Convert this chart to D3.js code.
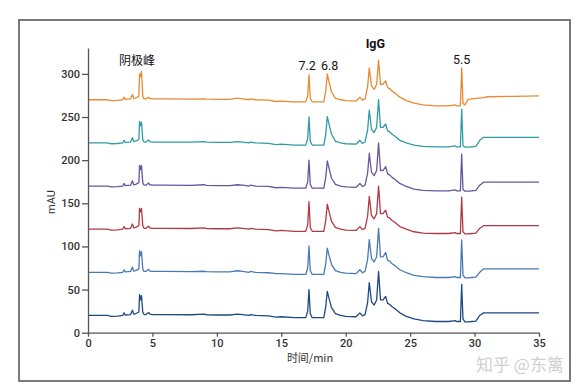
<!DOCTYPE html>
<html>
<head>
<meta charset="utf-8">
<script src="https://cdn.jsdelivr.net/npm/d3@7"></script>
<style>
  body { margin: 0; background: #fff; }
  .tick text { font-family: Roboto, sans-serif; font-weight: 500; font-size: 11px; fill: #333; }
  .axis path, .axis line { stroke: #555; stroke-width: 1.3; }
</style>
</head>
<body>
<div id="chart"></div>
<script>
// retention time (min), shared by every trace
var times = [0, 1.5, 1.8, 2.3, 2.7, 2.8, 2.9, 3.3, 3.45, 3.55, 3.7, 3.95, 4.0, 4.08, 4.15, 4.25, 4.35, 4.5, 4.7, 4.8, 5.0,
  6, 8, 9, 9.2, 10, 11, 11.6, 12, 12.5, 12.6, 13, 14, 14.6, 15, 16, 16.9,
  17.05, 17.15, 17.25, 17.4, 18.3, 18.45, 18.57, 18.7, 18.9, 19.2, 19.6, 20, 20.8, 21.1, 21.3, 21.5, 21.7, 21.83,
  22.0, 22.2, 22.4, 22.55, 22.7, 22.9, 23.1, 23.25, 23.4, 23.6, 23.8, 24.2, 24.7, 25.3, 26, 27, 28, 28.5, 28.6, 28.9,
  29.0, 29.1, 29.25, 29.5, 29.8, 30.1, 30.4, 30.7, 31, 33, 35];

// absorbance (mAU), traces stacked as printed
var orange = [270, 270, 269, 269.3, 270, 273, 270.5, 271, 276, 271.5, 272, 274, 300, 297, 303, 274, 271, 271, 273, 271.5, 271,
  271, 270.8, 271, 270.8, 270.5, 270.5, 272, 271, 270, 271, 270, 269.5, 268, 268.5, 267.5, 267.5,
  275, 299, 272, 267.5, 267.5, 280, 300, 291, 279, 272, 270, 269, 268.5, 273, 269.5, 271, 285, 307,
  286, 282, 288, 316, 288, 288, 292, 284, 283, 280, 278, 273, 269, 266, 264, 263, 263, 264, 263, 263,
  307, 266, 264, 270.5, 271, 271.5, 272, 272.5, 273.5, 274, 274.5];
var teal = [220, 220, 219, 219.3, 220, 223, 220.5, 221, 226, 221.5, 222, 224, 245, 240, 244, 224, 221, 221, 223.5, 221.5, 221,
  221, 220.8, 221.5, 220.8, 220.5, 220.5, 221.5, 221, 220, 221, 220, 219.5, 218, 218.5, 217.5, 217.5,
  225, 250, 222, 217.5, 217.5, 230, 250.5, 242, 230, 222, 220, 219, 218.5, 223, 219.5, 221, 235, 258,
  236, 232, 238, 270, 238, 238, 242, 234, 233, 230, 228, 223, 220, 217.5, 216, 215.5, 215.5, 216.5, 215.5, 215.5,
  259, 217, 215, 215, 215.5, 216, 223, 226.5, 226.5, 226.5, 226.5];
var purple = [170, 170, 169, 169.3, 170, 173, 170.5, 171, 176, 171.5, 172, 174, 194, 189, 194, 174, 171, 171, 173.5, 171.5, 171,
  171, 170.8, 171.5, 170.8, 170.5, 170.5, 171.5, 171, 170, 171, 170, 169.5, 168, 168.5, 167.5, 167.5,
  175, 200, 172, 167.5, 167.5, 180, 199, 191, 179, 172, 170, 169, 168.5, 173, 169.5, 171, 185, 208,
  186, 182, 188, 220, 188, 188, 192.5, 184, 183, 180, 178, 173, 169.5, 166.5, 165, 164.5, 164.5, 165.5, 164.5, 164.5,
  207, 166, 164, 164, 164.5, 165, 171, 174.5, 174.5, 174.5, 174.5];
var red = [120, 120, 119, 119.3, 120, 123, 120.5, 121, 126, 121.5, 122, 124, 144, 140, 144, 124, 121, 121, 123.5, 121.5, 121,
  121, 120.8, 121.5, 120.8, 120.5, 120.5, 121.5, 121, 120, 121, 120, 119.5, 118, 118.5, 117.5, 117.5,
  125, 152, 122, 117.5, 117.5, 130, 149, 141, 129, 122, 120, 119, 118.5, 123, 119.5, 121, 135, 158,
  136, 132, 138, 170, 138, 138, 142, 134, 133, 130, 128, 123, 120, 117, 115.5, 115, 115, 116, 115, 115,
  157, 117, 114.5, 114.5, 115, 115.5, 121, 124, 124, 124, 124];
var blue = [70, 70, 69, 69.3, 70, 73, 70.5, 71, 76, 71.5, 72, 74, 95, 89, 94, 74, 71, 71, 73.5, 71.5, 71,
  71, 70.8, 71.2, 70.8, 70.5, 70.5, 71.8, 71, 70, 71, 70, 69.5, 68.5, 68.5, 67.5, 67.5,
  75, 100.5, 72, 67.5, 67.5, 80, 98, 90, 79, 72, 70, 69, 68.5, 73, 69.5, 71, 85, 108,
  86, 82, 88, 121, 88, 88, 93, 84, 83, 80, 78, 73, 69.5, 66.5, 65, 64, 64, 65, 64, 64,
  107.5, 67, 63.5, 63.5, 64, 64.5, 70, 74, 74, 74, 74];
var navy = [20, 20, 19, 19.3, 20, 23, 20.5, 21, 26, 21.5, 22, 24, 44, 38, 43, 24, 21, 21, 23.5, 21.5, 21,
  21, 20.8, 21.5, 20.8, 20.5, 20.5, 21.5, 21, 20, 21, 20, 19.5, 18, 18.5, 17.5, 17.5,
  25, 50, 22, 17.5, 17.5, 30, 48, 40, 29, 22, 20, 19, 18.5, 23, 19.5, 21, 35, 58,
  36, 32, 38, 71, 38, 38, 42, 34, 33, 30, 28, 23, 19, 16, 14, 13, 13, 14, 13, 13,
  56, 16, 12.5, 12.5, 13, 13.5, 20, 23, 23, 23, 23];

var series = [orange, teal, purple, red, blue, navy];
var colors = ["#e98a33", "#2f9ba7", "#66579a", "#ae3a45", "#4a7ab6", "#1d4a82"];

var xTicks = [0, 5, 10, 15, 20, 25, 30, 35];
var yTicks = [0, 50, 100, 150, 200, 250, 300];

// peak labels: [text, time, mAU, bold]
var peakLabels = [["阴极峰", 3.8, 310, false], ["7.2", 17.0, 305, false], ["6.8", 18.75, 305, false],
  ["IgG", 22.3, 330, true], ["5.5", 29.0, 312, false]];

var w = 583, h = 388;
var svg = d3.select("#chart").append("svg")
  .attr("width", w)
  .attr("height", h);

svg.append("rect")
  .attr("x", 0).attr("y", 0)
  .attr("width", w).attr("height", h)
  .attr("fill", "white");

// outer frame
svg.append("rect")
  .attr("x", 19).attr("y", 20)
  .attr("width", 551).attr("height", 361)
  .attr("fill", "none")
  .attr("stroke", "#7a7a7a")
  .attr("stroke-width", 2);

var xScale = d3.scaleLinear().domain([0, 35]).range([88, 539]);
var yScale = d3.scaleLinear().domain([0, 330]).range([332.7, 48]);

var xAxis = d3.axisBottom(xScale).tickValues(xTicks).tickSize(4).tickSizeOuter(0).tickPadding(3);
var yAxis = d3.axisLeft(yScale).tickValues(yTicks).tickSize(6).tickSizeOuter(0).tickPadding(2);

var line = d3.line()
  .x((d, i) => xScale(times[i]))
  .y(d => yScale(d));

svg.append("g")
  .selectAll("path")
  .data(series)
  .enter().append("path")
  .attr("d", d => line(d))
  .attr("fill", "none")
  .attr("stroke", (d, i) => colors[i])
  .attr("stroke-width", 1.3)
  .attr("stroke-linejoin", "round");

svg.append("g")
  .attr("class", "axis")
  .attr("transform", `translate(0, ${yScale(0)})`)
  .call(xAxis);

svg.append("g")
  .attr("class", "axis")
  .attr("transform", "translate(88, 0)")
  .call(yAxis);

svg.append("text")
  .attr("transform", "translate(55, 202) rotate(-90)")
  .attr("text-anchor", "middle")
  .style("font-family", "Roboto, sans-serif")
  .style("font-size", "11px")
  .attr("fill", "#333")
  .text("mAU");

svg.append("text")
  .attr("x", 310).attr("y", 362)
  .attr("text-anchor", "middle")
  .style("font-family", "'Noto Sans CJK SC', sans-serif")
  .style("font-size", "11px")
  .attr("fill", "#333")
  .text("时间/min");

svg.append("g")
  .selectAll("text")
  .data(peakLabels)
  .enter().append("text")
  .attr("x", d => xScale(d[1]))
  .attr("y", d => yScale(d[2]))
  .attr("text-anchor", "middle")
  .style("font-family", d => d[0] == "阴极峰" ? "'Noto Sans CJK SC', sans-serif" : "Roboto, sans-serif")
  .style("font-size", d => d[0] == "阴极峰" ? "12px" : "12.5px")
  .style("font-weight", d => d[3] ? "bold" : "normal")
  .attr("fill", "#111")
  .text(d => d[0]);

// watermark
svg.append("text")
  .attr("x", 476).attr("y", 371)
  .style("font-family", "'Noto Sans CJK SC', sans-serif")
  .style("font-size", "17px")
  .attr("fill", "#cfcfcf")
  .text("知乎 @东篱");
</script>
</body>
</html>
